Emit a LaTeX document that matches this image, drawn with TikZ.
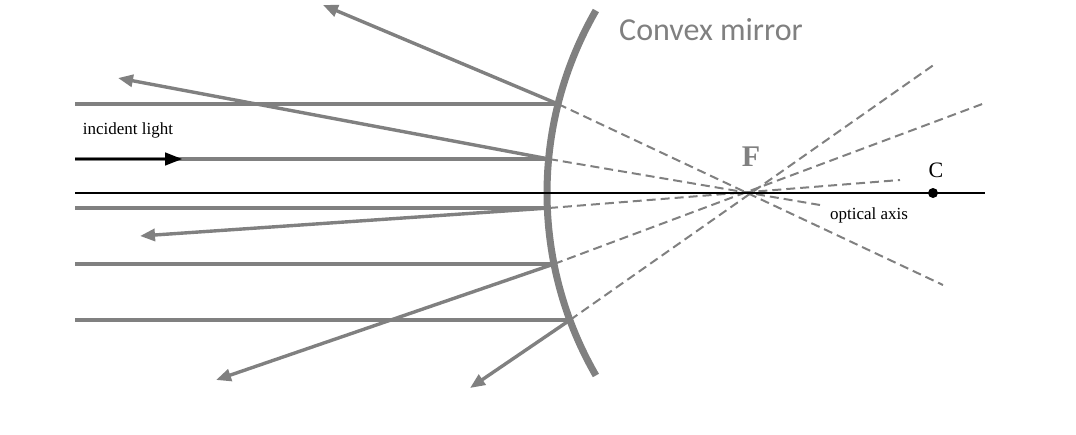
\documentclass[tikz,border=0pt]{standalone}
\usepackage{fontspec}
\setmainfont{Liberation Serif}
\newfontfamily\calib{Carlito}
\usetikzlibrary{arrows.meta}
\definecolor{rg}{RGB}{128,128,128}
\begin{document}
\begin{tikzpicture}[x=1pt,y=-1pt,
  ray/.style={draw=rg,line width=3.4pt},
  refl/.style={ray,-{Triangle[length=15pt,width=12pt]}},
  dashray/.style={draw=rg,line width=2pt,dash pattern=on 9pt off 5pt}]
\useasboundingbox (0,0) rectangle (1076,434);
\draw[rg,line width=7pt] plot[domain=-30:30,samples=60] ({912-365*cos(\x)},{193+365*sin(\x)});
\coordinate (h1) at (558,104);
\coordinate (h2) at (549,159);
\coordinate (h3) at (549,208);
\coordinate (h4) at (554,264);
\coordinate (h5) at (570,320);
\coordinate (F) at (748,193);
\foreach \i/\y in {1/104,2/159,3/208,4/264,5/320} {\coordinate (s\i) at (75,\y); \draw[ray] (s\i) -- (h\i);}
\coordinate (e1) at (323,5);
\coordinate (e2) at (118,78);
\coordinate (e3) at (140,236);
\coordinate (e4) at (216,380);
\coordinate (e5) at (470,388);
\foreach \i in {1,...,5} {\draw[refl] (h\i) -- (e\i);}
\coordinate (d1) at (943,285);
\coordinate (d2) at (820,205);
\coordinate (d3) at (900,180);
\coordinate (d4) at (985,103);
\coordinate (d5) at (935,64);
\foreach \i in {1,...,5} {\draw[dashray] (h\i) -- (d\i);}
\draw[line width=1.5pt] (75,193) -- (985,193);
\fill (933,193) circle (5pt);
\node[font=\fontsize{22}{24}\selectfont] (C) at (936,170) {C};
\node[text=rg,font=\fontsize{30}{32}\selectfont\bfseries] (Fl) at (751,157) {F};
\node[font=\fontsize{17}{19}\selectfont] (oa) at (869,215) {optical axis};
\node[font=\fontsize{17}{19}\selectfont] (il) at (128,130) {incident light};
\coordinate (a0) at (75,159);
\coordinate (a1) at (182,159);
\draw[line width=1.5pt,-{Triangle[length=17pt,width=13pt]}] (a0) -- (a1);
\node[text=rg,font=\calib\fontsize{32}{34}\selectfont] (cm) at (711,30) {Convex mirror};
\end{tikzpicture}
\end{document}
